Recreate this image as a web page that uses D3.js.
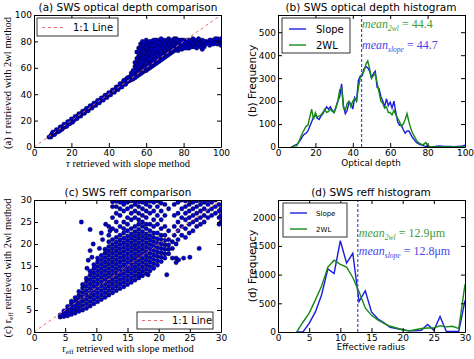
<!DOCTYPE html>
<html><head><meta charset="utf-8">
<script src="https://cdn.jsdelivr.net/npm/d3@7"></script>
<style>
body{margin:0;background:#fff}
svg{display:block}
</style></head>
<body><svg id="c" width="474" height="359"></svg>
<script>
// ---------- data ----------
// (a) optical depth scatter: [slope, 2wl]
const tauPairs = [[8,7.5],[9,8.5],[9.5,9.8],[10,9.2],[10.5,11],[11,10.3],[12,11.5],[12.5,12.8],[13,12.2],[14,13.8],[14,12.5],[15,14.2],[15.5,15.5],[16,15],[16.5,16.8],[17,16.2],[17.5,15.8],[18,17.5],[18.5,18.6],[19,18.2],[19.5,19.8],[20,19.2],[20.5,18.8],[21,20.6],[21.5,21.4],[22,21.2],[22.5,22.6],[23,22.3],[23.5,23.5],[24,23.4],[24.5,24.8],[25,24.6],[25.5,25.3],[26,25.8],[26.5,26.6],[27,26.4],[27.5,27.6],[28,27.5],[28.5,28.8],[29,28.4],[29.5,29.6],[30,29.6],[30.5,30.5],[31,30.4],[31.5,31.6],[32,31.5],[32.5,32.6],[33,32.4],[33.5,33.5],[34,33.6],[34.5,34.3],[35,34.8],[35.5,35.5],[36,35.6],[36.5,36.4],[37,36.8],[37.5,37.6],[38,37.8],[38.5,38.5],[39,38.8],[39.5,39.6],[40,39.7],[40.5,40.5],[41,40.7],[41.5,41.6],[42,41.8],[42.5,42.6],[43,42.6],[43.5,43.6],[44,43.8],[44.5,44.6],[45,44.6],[45.5,45.8],[46,45.6],[46.5,47.5],[47,46.8],[47.5,48.5],[48,47.5],[48.5,50.5],[49,48.6],[49.5,51.5],[50,49.5],[50,52.5],[51,50.2],[51,53],[52,51],[52,53.5],[53,51.5],[53,54.5],[54,52.5],[54,55.5],[55,53.5],[55,57],[56,54.5],[56,58.5],[56,66],[57,55.5],[57,60],[57,72],[57,78],[58,56.5],[58,62],[58,70],[58,80],[59,57.5],[59,64],[59,75],[60,58],[60,66],[60,62],[60,73],[60,79],[61,59],[61,68],[61,63.5],[61,76],[62,60],[62,70],[62,65],[62,78],[63,61],[63,67],[63,72],[63,80],[64,62],[64,69],[64,75],[64,79],[65,63],[65,71],[65,77],[65,81],[66,64],[66,73],[66,79],[67,65],[67,70],[67,76],[68,66],[68,74],[68,80],[69,67],[69,72],[69,78],[70,68],[70,75],[70,81],[71,69],[71,73],[71,77],[72,70],[72,76],[72,80],[73,71],[73,74],[73,78],[74,72],[74,77],[75,73],[75,76],[75,80],[76,74],[76,78],[77,73],[77,79],[78,75],[78,81],[79,74],[79,77],[80,76],[80,79],[81,75],[81,80],[82,77],[83,79],[83,75],[84,78],[85,80],[85,76],[86,79],[87,77],[88,80],[89,78],[90,74],[91,78],[92,80],[93,79],[94,81],[95,79],[96,80],[97,82],[98,80],[99,81],[100,79],[100,77],
[9,7.5],[11,9.5],[13,11.5],[15,13.5],[17,15.5],[19,17.5],[21,19.5],[23,21.5],[25,23.5],[27,25.5],[29,27.5],[31,29.5],[33,31.5],[35,33.5],[37,35.5],[39,37.5],[41,39.5],[43,41.5],[45,43.5],[47,45.5],[49,47.5],
[10,11.2],[12,13.2],[14,15.2],[16,17.2],[18,19.2],[20,21.2],[22,23.2],[24,25.2],[26,27.2],[28,29.2],[30,31.2],[32,33.2],[34,35.2],[36,37.2],[38,39.2],[40,41.2],[42,43.2],[44,45.5],[46,48],[48,50.5],
[52,54],[52,56],[53,56],[53,58],[54,58],[54,61],[54,64],[55,60],[55,63],[55,67],[55,72],[56,61],[56,64],[56,69],[56,75],[57,63],[57,66],[57,69],[57,75],[58,59],[58,65],[58,68],[58,73],[58,77],[59,60],[59,67],[59,70],[59,78],[60,64],[60,68],[60,71],[60,76],[60,81],[61,61],[61,66],[61,71],[61,74],[61,79],[62,62],[62,67],[62,72],[62,75],[62,80],[63,64],[63,69],[63,74],[63,77],[64,65],[64,71],[64,73],[64,77],[64,81],[65,66],[65,69],[65,74],[65,79],[66,67],[66,70],[66,76],[66,81],[67,68],[67,72],[67,74],[67,79],[68,69],[68,72],[68,77],[68,82],[69,70],[69,75],[69,80],[70,71],[70,73],[70,78],[71,71],[71,75],[71,80],[72,72],[72,74],[72,78],[72,82],[73,73],[73,76],[73,80],[74,74],[74,79],[74,81],[75,75],[75,78],[75,82],[76,76],[76,80],[76,82],[77,75],[77,77],[77,81],[78,77],[78,79],[79,76],[79,79],[79,81],[80,75],[80,78],[80,81],[81,77],[81,79],[82,75],[82,79],[82,81],[83,77],[83,81],[84,76],[84,80],[85,78],[85,82],[86,76],[86,81],[87,79],[87,75],[88,78],[88,82],[89,76],[89,80],[90,79],[90,81],[91,76],[91,80],[92,78],[94,77],[94,79],[95,81],[96,78],[97,79],[98,78],[98,82],[99,79],[100,80],[100,82]];

// (c) effective radius scatter, listed as columns: [slope, [2wl values]]
const reffColumns = [
[4.2,[3.4,3.9]],[4.8,[3.5,4.2,4.8]],[5.4,[3.7,4.4,5.2,5.8]],[6.0,[4.0,4.8,5.6,6.4,7.0]],[6.6,[4.3,5.1,6.0,6.9,7.8]],
[7.2,[4.7,5.6,6.5,7.4,8.3,9.2]],[7.8,[5.0,6.0,7.0,8.0,9.0,10.0,10.8]],[8.4,[5.4,6.4,7.4,8.4,9.4,10.4,11.4,12.2]],
[9.0,[5.9,6.9,7.9,8.9,9.9,10.9,11.9,12.9,13.8]],[9.6,[6.4,7.4,8.4,9.4,10.4,11.4,12.4,13.4,14.4,15.3]],
[10.2,[6.9,7.9,8.9,9.9,10.9,11.9,12.9,13.9,14.9,15.9,16.8]],[10.8,[7.4,8.4,9.4,10.4,11.4,12.4,13.4,14.4,15.4,16.4,17.4]],
[11.4,[7.9,8.9,9.9,10.9,11.9,12.9,13.9,14.9,15.9,16.9,17.9,18.8]],
[12.0,[8.4,9.4,10.4,11.4,12.4,13.4,14.4,15.4,16.4,17.4,18.4,19.4,20.5,22,24]],
[12.6,[8.9,9.9,10.9,11.9,12.9,13.9,14.9,15.9,16.9,17.9,18.9,19.9,21,23.5,26,28.5,29.6]],
[13.2,[9.4,10.4,11.4,12.4,13.4,14.4,15.4,16.4,17.4,18.4,19.4,20.4,21.5,23,25,27,28.5,29.7]],
[13.8,[9.9,10.9,11.9,12.9,13.9,14.9,15.9,16.9,17.9,18.9,19.9,20.9,22,24,26.5,28,29.5]],
[14.4,[10.3,11.3,12.3,13.3,14.3,15.3,16.3,17.3,18.3,19.3,20.3,21.3,22.5,23.5,25,27.5,29,29.8]],
[15.0,[10.8,11.8,12.8,13.8,14.8,15.8,16.8,17.8,18.8,19.8,20.8,21.8,23,24.5,26,28,29.5]],
[15.6,[11.3,12.3,13.3,14.3,15.3,16.3,17.3,18.3,19.3,20.3,21.3,22.3,23.5,25.5,27,28.5,29.8]],
[16.2,[11.8,12.8,13.8,14.8,15.8,16.8,17.8,18.8,19.8,20.8,21.8,22.8,24,26,27.5,29,29.8]],
[16.8,[12.3,13.3,14.3,15.3,16.3,17.3,18.3,19.3,20.3,21.3,22.3,23.3,24.5,25.5,27,28.5,29.6]],
[17.4,[12.8,13.8,14.8,15.8,16.8,17.8,18.8,19.8,20.8,21.8,22.8,24,25,26.5,28,29.5]],
[18.0,[13.3,14.3,15.3,16.3,17.3,18.3,19.3,20.3,21.3,22.3,23.5,24.5,26,27.5,29,29.8]],
[18.6,[13.9,14.9,15.9,16.9,17.9,18.9,19.9,20.9,21.9,23,24.5,27,28.5,29.7]],
[19.2,[14.5,15.5,16.5,17.5,18.5,19.5,20.5,21.5,22.5,24,25.5,27.5,29.5]],
[19.8,[15.2,16.2,17.2,18.2,19.2,20.2,21.2,22.5,24.5,26.5,28.5,29.8]],
[20.4,[16.0,17.0,18.0,19.0,20.0,21.0,22.0,23.5,25.5,27.5,29.3]],
[21.0,[16.8,17.8,18.8,19.8,20.8,22,24,26.5,29]],
[21.6,[17.8,18.8,19.8,21,23,28]],
[22.2,[16.8,19,20.5]],[22.8,[15.8,16.8,20]],
[22.5,[22,24,26.5,29]],[23.1,[21,23,25,27,29.5]],[23.7,[22,24,26,28,30]],[24.3,[21.5,23.5,25.5,27,28.5,29.8]],
[24.9,[22.5,24.5,26,27.5,29,30]],[25.5,[23,25,26.5,28,29.5]],[26.1,[24,25.5,27,28.5,29.8]],[26.7,[24.5,26,27.5,29,30]],
[27.3,[25,26.5,28,29.5]],[27.9,[26,27.5,29,30]],[28.5,[26.5,28,29.5]],[29.1,[27,28.5,30]],[29.7,[24.5,26,27.5,29]],[30,[25,26.5,28]]
];
const reffSparse = [[7.6,25],[8.7,16.3],[9,18.5],[9.5,20],[9.3,17],[10.5,19],[11,21],[11.5,24.5],[10.8,22.5],[9,23.3],[8.5,14.5],[12.2,23],[17,13],[18.3,13],[21.3,13],[23.2,16.4],[24,16.8],[25,17],[26.5,19]];

// (b) optical depth histogram
const odBins = [7,8,9,10,11,12,13,14,15,16,17,18,19,20,21,22,23,24,25,26,27,28,29,30,31,32,33,34,35,36,37,38,39,40,41,42,43,44,45,46,47,48,49,50,51,52,53,54,55,56,57,58,59,60,61,62,63,64,65,66,67,68,69,70,71,72,73,74,75,76,77,78,79,80,82,84,86,88,90,92,94,96,98,100];
const odSlope = [0,3,8,10,20,30,45,55,60,70,90,110,130,140,125,120,135,145,160,175,165,175,160,150,175,200,220,275,180,145,160,195,190,165,215,200,290,310,310,340,350,345,330,300,320,330,260,255,220,200,175,210,180,195,170,200,150,110,95,95,75,60,70,70,55,40,30,20,15,10,8,5,3,2,0,2,5,3,2,2,1,2,3,8];
const od2wl = [0,2,5,5,20,40,60,75,90,95,130,165,120,150,130,135,140,150,165,150,155,165,155,150,170,200,250,255,170,160,190,200,175,200,210,200,260,300,320,330,360,375,340,300,310,320,280,240,200,190,170,175,150,150,140,160,140,125,110,90,100,120,145,110,80,60,45,30,20,15,10,12,20,5,0,0,0,0,0,0,0,0,0,0];
const odMeanSlope = 44.7, odMean2wl = 44.4;

// (d) effective radius histogram
const reBins = [3,4,5,6,7,8,9,10,11,12,13,14,15,16,17,18,19,20,21,22,23,24,25,26,27,28,29,30];
const reSlope = [0,0,150,350,650,1100,1020,1590,1200,1370,530,720,350,230,160,80,60,40,20,20,30,130,30,270,10,10,10,550];
const re2wl = [0,170,330,560,800,1130,1250,1180,1130,950,700,420,290,210,150,100,70,40,20,40,60,70,70,110,90,100,60,830];
const reMeanSlope = 12.8, reMean2wl = 12.9;

const ticks100 = [0,20,40,60,80,100];
const ticks30 = [0,5,10,15,20,25,30];
const ticksOdFreq = [0,100,200,300,400,500];
const ticksReFreq = [0,500,1000,1500,2000];

// ---------- drawing ----------
const SANS = '"DejaVu Sans",sans-serif';
const SERIF = '"Liberation Serif","Times New Roman",serif';
const svg = d3.select('#c');
const BLUE = '#1a1ae0', GREEN = '#138a13', REDD = '#e86a6a';
const MFILL = '#0000c8';

function panel(id, xr, yr, xd, yd, xt, yt) {
  const g = svg.append('g');
  const x = d3.scaleLinear().domain(xd).range(xr);
  const y = d3.scaleLinear().domain(yd).range(yr);
  g.append('clipPath').attr('id', id).append('rect')
    .attr('x', xr[0]).attr('y', yr[1]).attr('width', xr[1]-xr[0]).attr('height', yr[0]-yr[1]);
  const body = g.append('g').attr('clip-path', `url(#${id})`);
  const axes = g.append('g');
  const fmt = d3.format('d');
  axes.append('g').attr('transform', `translate(0,${yr[0]})`)
    .call(d3.axisBottom(x).tickValues(xt).tickFormat(fmt).tickSizeInner(-4).tickSizeOuter(0).tickPadding(3));
  axes.append('g').attr('transform', `translate(0,${yr[1]})`)
    .call(d3.axisTop(x).tickValues(xt).tickFormat('').tickSizeInner(-4).tickSizeOuter(0));
  axes.append('g').attr('transform', `translate(${xr[0]},0)`)
    .call(d3.axisLeft(y).tickValues(yt).tickFormat(fmt).tickSizeInner(-4).tickSizeOuter(0).tickPadding(2));
  axes.append('g').attr('transform', `translate(${xr[1]},0)`)
    .call(d3.axisRight(y).tickValues(yt).tickFormat('').tickSizeInner(-4).tickSizeOuter(0));
  axes.selectAll('.domain').attr('stroke', '#000').attr('stroke-width', 1);
  axes.selectAll('.tick line').attr('stroke', '#000');
  axes.selectAll('.tick text').attr('font-size', 9).attr('fill', '#000').attr('font-family', SANS);
  return {g, body, x, y, axes};
}

function txt(x, y, s, size, opts = {}) {
  const t = svg.append('text').attr('x', x).attr('y', y).attr('font-size', size)
    .attr('font-family', opts.serif ? SERIF : SANS).attr('fill', opts.fill || '#000');
  if (opts.anchor) t.attr('text-anchor', opts.anchor);
  if (opts.transform) t.attr('transform', opts.transform);
  if (opts.html) t.html(s); else t.text(s);
  return t;
}

function legendBox(x0, y0, w, h) {
  svg.append('rect').attr('x', x0).attr('y', y0).attr('width', w).attr('height', h)
    .attr('fill', '#fff').attr('stroke', '#000').attr('stroke-width', 0.8);
}

function scatter(P, pts, dmax) {
  P.body.selectAll('circle').data(pts).join('circle')
    .attr('cx', d => P.x(d[0])).attr('cy', d => P.y(d[1])).attr('r', 2.2)
    .attr('fill', MFILL).attr('stroke', '#000').attr('stroke-width', 0.35);
  P.body.append('line').attr('x1', P.x(0)).attr('y1', P.y(0)).attr('x2', P.x(dmax)).attr('y2', P.y(dmax))
    .attr('stroke', REDD).attr('stroke-width', 1).attr('stroke-dasharray', '3,3');
}

// ---- (a) ----
const A = panel('ca', [34, 221], [147, 15], [0, 100], [0, 100], ticks100, ticks100);
scatter(A, tauPairs, 100);
txt(128, 11, '(a) SWS optical depth comparison', 10.5, {anchor: 'middle'});
legendBox(37, 18, 81, 18);
svg.append('line').attr('x1', 42).attr('x2', 64).attr('y1', 27.5).attr('y2', 27.5)
  .attr('stroke', REDD).attr('stroke-width', 1.1).attr('stroke-dasharray', '3,3');
txt(73, 31, '1:1 Line', 10);
txt(128, 167, '<tspan font-style="italic">τ</tspan> retrieved with slope method', 10.5, {serif: true, anchor: 'middle', html: true});
txt(0, 0, '(a) <tspan font-style="italic">τ</tspan> retrieved with 2wl method', 10.5,
  {serif: true, anchor: 'middle', html: true, transform: 'translate(11,83) rotate(-90)'});

// ---- (b) ----
const B = panel('cb', [278, 465], [147, 15], [0, 100], [0, 575], ticks100, ticksOdFreq);
const lineB = (vals) => d3.line().x((d, i) => B.x(odBins[i])).y(d => B.y(d))(vals);
B.body.append('path').attr('d', lineB(odSlope)).attr('fill', 'none').attr('stroke', BLUE).attr('stroke-width', 1.4);
B.body.append('path').attr('d', lineB(od2wl)).attr('fill', 'none').attr('stroke', GREEN).attr('stroke-width', 1.4);
B.body.append('line').attr('x1', B.x(odMeanSlope)).attr('x2', B.x(odMeanSlope)).attr('y1', B.y(0)).attr('y2', B.y(575))
  .attr('stroke', '#4b4bb0').attr('stroke-width', 1.2).attr('stroke-dasharray', '3,2');
txt(371, 11, '(b) SWS optical depth histogram', 10.5, {anchor: 'middle'});
legendBox(282, 18, 68, 35);
svg.append('line').attr('x1', 289).attr('x2', 306).attr('y1', 29).attr('y2', 29).attr('stroke', BLUE).attr('stroke-width', 1.4);
svg.append('line').attr('x1', 289).attr('x2', 306).attr('y1', 45).attr('y2', 45).attr('stroke', GREEN).attr('stroke-width', 1.4);
txt(316, 33, 'Slope', 10);
txt(316, 49, '2WL', 10);
txt(371, 166, 'Optical depth', 8.8, {anchor: 'middle'});
txt(0, 0, '(b) Frequency', 10.5, {anchor: 'middle', transform: 'translate(256,81) rotate(-90)'});
function meanText(x0, y0, sub, val, col) {
  const t = svg.append('text').attr('font-family', SERIF).attr('x', x0).attr('y', y0).attr('fill', col).attr('font-size', 12);
  t.append('tspan').attr('font-style', 'italic').text('mean');
  t.append('tspan').attr('font-style', 'italic').attr('font-size', 7.5).attr('dy', 2.5).text(sub);
  t.append('tspan').attr('dy', -2.5).text(' = ' + val);
}
meanText(B.x(odMeanSlope) + 0.5, 28, '2wl', odMean2wl.toFixed(1), '#3d9c3d');
meanText(B.x(odMeanSlope) + 0.5, 49, 'slope', odMeanSlope.toFixed(1), '#4747e6');

// ---- (c) ----
const C = panel('cc', [34, 221], [332, 200], [0, 30], [0, 30], ticks30, ticks30);
const reffPts = reffColumns.flatMap(c => c[1].map(v => [c[0], v])).concat(reffSparse);
scatter(C, reffPts, 30);
txt(128, 196, '(c) SWS reff comparison', 10.5, {anchor: 'middle'});
legendBox(137, 312, 76, 17);
svg.append('line').attr('x1', 142).attr('x2', 164).attr('y1', 320.5).attr('y2', 320.5)
  .attr('stroke', REDD).attr('stroke-width', 1.1).attr('stroke-dasharray', '3,3');
txt(172, 324, '1:1 Line', 10);
txt(128, 352, 'r<tspan font-size="7" dy="2">eff</tspan><tspan dy="-2"> retrieved with slope method</tspan>', 10.5,
  {serif: true, anchor: 'middle', html: true});
txt(0, 0, '(c) r<tspan font-size="7" dy="2">eff</tspan><tspan dy="-2"> retrieved with 2wl method</tspan>', 10.5,
  {serif: true, anchor: 'middle', html: true, transform: 'translate(11,268) rotate(-90)'});

// ---- (d) ----
const D = panel('cd', [278, 465], [332, 200], [0, 30], [0, 2300], ticks30, ticksReFreq);
const lineD = (vals) => d3.line().x((d, i) => D.x(reBins[i])).y(d => D.y(d))(vals);
D.body.append('path').attr('d', lineD(reSlope)).attr('fill', 'none').attr('stroke', BLUE).attr('stroke-width', 1.4);
D.body.append('path').attr('d', lineD(re2wl)).attr('fill', 'none').attr('stroke', GREEN).attr('stroke-width', 1.4);
D.body.append('line').attr('x1', D.x(reMeanSlope)).attr('x2', D.x(reMeanSlope)).attr('y1', D.y(0)).attr('y2', D.y(2300))
  .attr('stroke', '#4b4bb0').attr('stroke-width', 1.2).attr('stroke-dasharray', '3,2');
txt(371, 196, '(d) SWS reff histogram', 10.5, {anchor: 'middle'});
legendBox(283, 203, 64, 34);
svg.append('line').attr('x1', 290).attr('x2', 307).attr('y1', 213).attr('y2', 213).attr('stroke', BLUE).attr('stroke-width', 1.4);
svg.append('line').attr('x1', 290).attr('x2', 307).attr('y1', 229).attr('y2', 229).attr('stroke', GREEN).attr('stroke-width', 1.4);
txt(316, 216, 'Slope', 7);
txt(316, 232, '2WL', 7);
txt(371, 350, 'Effective radius', 8.8, {anchor: 'middle'});
txt(0, 0, '(d) Frequency', 10.5, {anchor: 'middle', transform: 'translate(256,266) rotate(-90)'});
meanText(D.x(reMeanSlope) + 1, 237, '2wl', reMean2wl.toFixed(1) + 'μm', '#3d9c3d');
meanText(D.x(reMeanSlope) + 1, 255, 'slope', reMeanSlope.toFixed(1) + 'μm', '#4747e6');
</script>
</body></html>
